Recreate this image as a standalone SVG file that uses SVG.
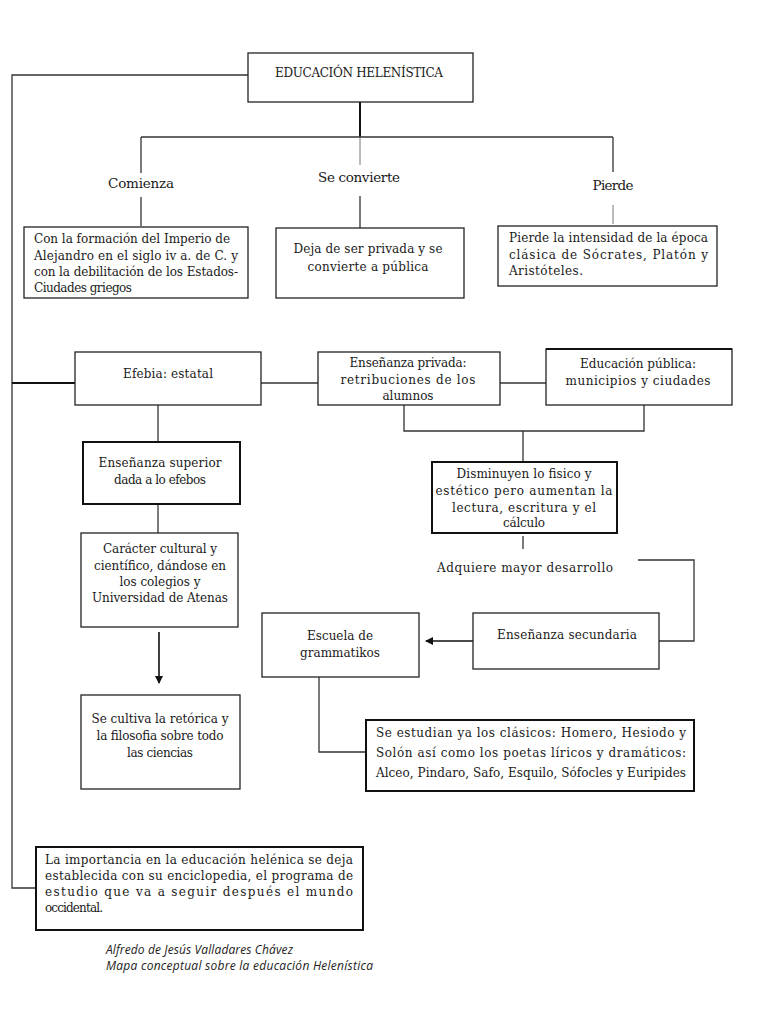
<svg xmlns="http://www.w3.org/2000/svg" width="768" height="1024" viewBox="0 0 768 1024">
<style>
.bx{fill:#fff;stroke:#222;stroke-width:1.3}
.bk{fill:#fff;stroke:#111;stroke-width:2}
.ln{fill:none;stroke:#333;stroke-width:1.3}
.lt{fill:none;stroke:#777;stroke-width:1}
.t{font-family:"DejaVu Serif","Liberation Serif",serif;font-size:12px;fill:#1a1a1a}
.c{text-anchor:middle}
.lb{font-family:"DejaVu Serif","Liberation Serif",serif;font-size:13.5px;fill:#1a1a1a;text-anchor:middle}
.cap{font-family:"Open Sans","Liberation Sans",sans-serif;font-size:12px;font-style:italic;fill:#222}
</style>
<defs>
<marker id="ah" markerWidth="8" markerHeight="8" refX="7" refY="4" orient="auto" markerUnits="userSpaceOnUse">
<path d="M0,0 L8,4 L0,8 Z" fill="#111"/>
</marker>
</defs>
<rect width="768" height="1024" fill="#fff"/>
<g id="connectors">
<polyline class="ln" points="248,75 12,75 12,888 36,888"/>
<line x1="12" y1="383" x2="75" y2="383" stroke="#111" stroke-width="2"/>
<line x1="360" y1="102" x2="360" y2="137" stroke="#111" stroke-width="2"/>
<line class="ln" x1="141" y1="137" x2="613" y2="137"/>
<line class="ln" x1="141" y1="137" x2="141" y2="173"/>
<line class="lt" x1="360" y1="137" x2="360" y2="165"/>
<line class="ln" x1="613" y1="137" x2="613" y2="172"/>
<line class="ln" x1="141" y1="197" x2="141" y2="226"/>
<line class="ln" x1="360" y1="196" x2="360" y2="228"/>
<line class="lt" x1="613" y1="205" x2="613" y2="224"/>
<line class="ln" x1="261" y1="383" x2="318" y2="383"/>
<line class="ln" x1="500" y1="383" x2="546" y2="383"/>
<polyline class="ln" points="404,405 404,431 644,431 644,405"/>
<line class="ln" x1="523" y1="431" x2="523" y2="461"/>
<line class="ln" x1="158" y1="405" x2="158" y2="442"/>
<line class="ln" x1="158" y1="504" x2="158" y2="533"/>
<line class="ln" x1="523" y1="536" x2="523" y2="549"/>
<polyline class="ln" points="638,560 694,560 694,641 659,641"/>
<line x1="473" y1="641" x2="426" y2="641" stroke="#111" stroke-width="1.6" marker-end="url(#ah)"/>
<line x1="159" y1="632" x2="159" y2="683" stroke="#111" stroke-width="1.6" marker-end="url(#ah)"/>
<polyline class="ln" points="319,677 319,752 366,752"/>
</g>
<g id="n-title">
<rect class="bx" x="248" y="53" width="225" height="49"/>
<text class="t" x="275" y="77" textLength="168" font-size="11.5">EDUCACIÓN HELENÍSTICA</text>
</g>
<g id="l-comienza"><text class="lb" x="141" y="188" textLength="66">Comienza</text></g>
<g id="l-convierte"><text class="lb" x="359" y="182" textLength="82">Se convierte</text></g>
<g id="l-pierde"><text class="lb" x="613" y="190" textLength="41">Pierde</text></g>
<g id="n-comienza">
<rect class="bx" x="24" y="227" width="224" height="71"/>
<text class="t" x="34" y="243" textLength="196">Con la formación del Imperio de</text>
<text class="t" x="34" y="260" textLength="204">Alejandro en el siglo iv a. de C. y</text>
<text class="t" x="34" y="276" textLength="204">con la debilitación de los Estados-</text>
<text class="t" x="34" y="292" textLength="98">Ciudades griegos</text>
</g>
<g id="n-convierte">
<rect class="bx" x="276" y="228" width="188" height="70"/>
<text class="t c" x="368" y="253" textLength="149">Deja de ser privada y se</text>
<text class="t c" x="368" y="271" textLength="121">convierte a pública</text>
</g>
<g id="n-pierde">
<rect class="bx" x="498" y="226" width="219" height="60"/>
<text class="t" x="509" y="242" textLength="199">Pierde la intensidad de la época</text>
<text class="t" x="509" y="259" textLength="199">clásica de Sócrates, Platón y</text>
<text class="t" x="509" y="275" textLength="74">Aristóteles.</text>
</g>
<g id="n-efebia">
<rect class="bx" x="75" y="352" width="186" height="53"/>
<text class="t c" x="168" y="378" textLength="90">Efebia: estatal</text>
</g>
<g id="n-privada">
<rect class="bx" x="318" y="352" width="182" height="53"/>
<text class="t c" x="408" y="367" textLength="117">Enseñanza privada:</text>
<text class="t c" x="408" y="384" textLength="135">retribuciones de los</text>
<text class="t c" x="408" y="400" textLength="51">alumnos</text>
</g>
<g id="n-publica">
<rect class="bx" x="546" y="349" width="186" height="56"/>
<line x1="546" y1="349" x2="732" y2="349" stroke="#111" stroke-width="2"/>
<text class="t c" x="638" y="368" textLength="116">Educación pública:</text>
<text class="t c" x="638" y="385" textLength="145">municipios y ciudades</text>
</g>
<g id="n-superior">
<rect class="bk" x="83" y="442" width="157" height="62"/>
<text class="t c" x="160" y="467" textLength="123">Enseñanza superior</text>
<text class="t c" x="160" y="484" textLength="92">dada a lo efebos</text>
</g>
<g id="n-caracter">
<rect class="bx" x="81" y="533" width="157" height="94"/>
<text class="t c" x="160" y="553" textLength="114">Carácter cultural y</text>
<text class="t c" x="160" y="570" textLength="132">científico, dándose en</text>
<text class="t c" x="160" y="586" textLength="81">los colegios y</text>
<text class="t c" x="160" y="602" textLength="136">Universidad de Atenas</text>
</g>
<g id="n-cultiva">
<rect class="bx" x="81" y="695" width="159" height="94"/>
<text class="t c" x="160" y="723" textLength="137">Se cultiva la retórica y</text>
<text class="t c" x="160" y="740" textLength="127">la filosofia sobre todo</text>
<text class="t c" x="160" y="757" textLength="66">las ciencias</text>
</g>
<g id="n-disminuyen">
<rect class="bk" x="432" y="462" width="185" height="71"/>
<text class="t c" x="524" y="478" textLength="135">Disminuyen lo fisico y</text>
<text class="t c" x="524" y="495" textLength="177">estético pero aumentan la</text>
<text class="t c" x="524" y="512" textLength="144">lectura, escritura y el</text>
<text class="t c" x="524" y="527" textLength="42">cálculo</text>
</g>
<g id="l-adquiere">
<text class="t" x="437" y="572" font-size="14" textLength="176">Adquiere mayor desarrollo</text>
</g>
<g id="n-secundaria">
<rect class="bx" x="473" y="613" width="186" height="56"/>
<text class="t c" x="567" y="639" textLength="140">Enseñanza secundaria</text>
</g>
<g id="n-escuela">
<rect class="bx" x="262" y="613" width="157" height="64"/>
<text class="t c" x="340" y="640" textLength="66">Escuela de</text>
<text class="t c" x="340" y="657" textLength="80">grammatikos</text>
</g>
<g id="n-estudian">
<rect class="bk" x="366" y="720" width="328" height="71"/>
<text class="t" x="376" y="737" textLength="310">Se estudian ya los clásicos: Homero, Hesiodo y</text>
<text class="t" x="376" y="757" textLength="310">Solón así como los poetas líricos y dramáticos:</text>
<text class="t" x="376" y="777" textLength="310">Alceo, Pindaro, Safo, Esquilo, Sófocles y Euripides</text>
</g>
<g id="n-importancia">
<rect class="bk" x="36" y="847" width="327" height="83"/>
<text class="t" x="45" y="864" textLength="308">La importancia en la educación helénica se deja</text>
<text class="t" x="45" y="880" textLength="308">establecida con su enciclopedia, el programa de</text>
<text class="t" x="45" y="896" textLength="308">estudio que va a seguir después el mundo</text>
<text class="t" x="45" y="912" textLength="58">occidental.</text>
</g>
<g id="caption">
<text class="cap" x="106" y="954" textLength="187">Alfredo de Jesús Valladares Chávez</text>
<text class="cap" x="106" y="970" textLength="267">Mapa conceptual sobre la educación Helenística</text>
</g>
</svg>
